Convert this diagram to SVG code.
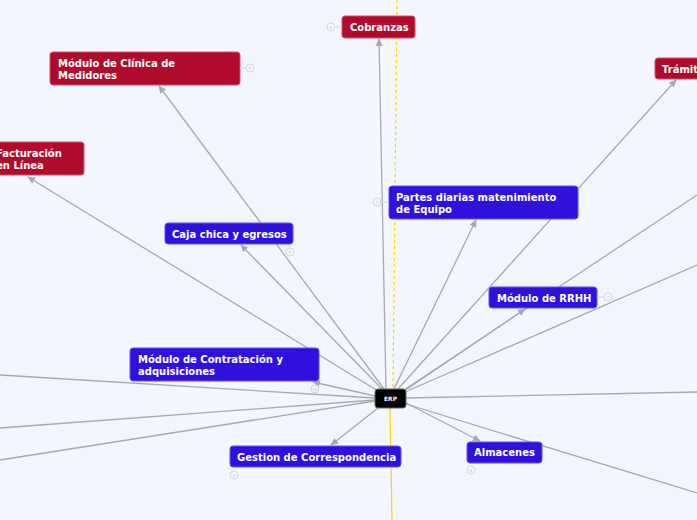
<svg xmlns="http://www.w3.org/2000/svg" width="697" height="520" viewBox="0 0 697 520">
<style>
.r{fill:#b00b2a;stroke:#d05070;stroke-width:1}
.b{fill:#3010dd;stroke:#6a50f0;stroke-width:1}
.t{font-family:"DejaVu Sans",sans-serif;font-weight:bold;font-size:10px;fill:#fff}
.c{stroke:#a8a8b0;stroke-width:1.3;fill:none}
.n{fill:none;stroke:#d8d8de;stroke-width:1}
.nt{font-family:"DejaVu Sans",sans-serif;font-size:4px;fill:#c8c8d0;text-anchor:middle}
</style>
<defs><marker id="a" markerWidth="8" markerHeight="8" refX="7" refY="4" orient="auto" markerUnits="userSpaceOnUse"><path d="M0,0.5 L8,4 L0,7.5z" fill="#a8a8b0"/></marker></defs>
<rect width="697" height="520" fill="#f3f6fe"/>
<line x1="397" y1="0" x2="393" y2="389" stroke="#f5d800" stroke-width="1.2" stroke-dasharray="3,3"/>
<line x1="390" y1="408" x2="392" y2="520" stroke="#f5d800" stroke-width="1.2"/>
<g id="connectors">
<path class="c" d="M386,389 L379,39" marker-end="url(#a)"/>
<path class="c" d="M384,389 L159,86" marker-end="url(#a)"/>
<path class="c" d="M378,391 L28,177" marker-end="url(#a)"/>
<path class="c" d="M382,389 L241,245" marker-end="url(#a)"/>
<path class="c" d="M375,396 L313,382" marker-end="url(#a)"/>
<path class="c" d="M378,408 L331,445" marker-end="url(#a)"/>
<path class="c" d="M394,389 L476,220" marker-end="url(#a)"/>
<path class="c" d="M398,389 L676,80" marker-end="url(#a)"/>
<path class="c" d="M404,391 L525,309" marker-end="url(#a)"/>
<path class="c" d="M404,390 L697,195"/>
<path class="c" d="M405,392 L697,265"/>
<path class="c" d="M406,398 L697,392"/>
<path class="c" d="M406,403 L480,441" marker-end="url(#a)"/>
<path class="c" d="M406,404 L697,493"/>
<path class="c" d="M375,398 L0,375"/>
<path class="c" d="M375,400 L0,428"/>
<path class="c" d="M375,401 L0,460"/>
</g>
<g id="erp"><rect x="375" y="389" width="31" height="19" rx="3" fill="#000" stroke="#666"/><text x="390.5" y="401" font-family="DejaVu Sans,sans-serif" font-weight="bold" font-size="6px" fill="#fff" text-anchor="middle">ERP</text></g>
<g id="cobranzas"><rect class="r" x="342" y="16" width="73" height="22" rx="3"/><text class="t" x="350" y="31">Cobranzas</text><line x1="336" y1="27" x2="342" y2="27" stroke="#d8d8de"/><circle class="n" cx="331" cy="27" r="4"/><text class="nt" x="331" y="28.5">6</text></g>
<g id="clinica"><rect class="r" x="50" y="52" width="190" height="33" rx="3"/><text class="t" x="58" y="67">Módulo de Clínica de</text><text class="t" x="58" y="79">Medidores</text><line x1="240" y1="68" x2="246" y2="68" stroke="#d8d8de"/><circle class="n" cx="250" cy="68" r="4"/><text class="nt" x="250" y="69.5">5</text></g>
<g id="facturacion"><rect class="r" x="-20" y="142" width="104" height="33" rx="3"/><text class="t" x="-4" y="157">Facturación</text><text class="t" x="-4" y="169">en Línea</text></g>
<g id="tramites"><rect class="r" x="655" y="58" width="60" height="21" rx="3"/><text class="t" x="662" y="73">Trámites</text></g>
<g id="caja"><rect class="b" x="165" y="223" width="128" height="21" rx="3"/><text class="t" x="172" y="238">Caja chica y egresos</text><circle class="n" cx="290" cy="252" r="4"/><text class="nt" x="290" y="253.5">5</text></g>
<g id="partes"><rect class="b" x="389" y="186" width="189" height="33" rx="3"/><text class="t" x="396" y="201">Partes diarias matenimiento</text><text class="t" x="396" y="213">de Equipo</text><line x1="381" y1="202" x2="389" y2="202" stroke="#d8d8de"/><circle class="n" cx="377" cy="202" r="4"/><text class="nt" x="377" y="203.5">7</text></g>
<g id="rrhh"><rect class="b" x="489" y="287" width="108" height="21" rx="3"/><text class="t" x="497" y="302">Módulo de RRHH</text><line x1="597" y1="297" x2="604" y2="297" stroke="#d8d8de"/><circle class="n" cx="608" cy="297" r="4"/><text class="nt" x="608" y="298.5">7</text></g>
<g id="contratacion"><rect class="b" x="130" y="348" width="189" height="33" rx="3"/><text class="t" x="138" y="363">Módulo de Contratación y</text><text class="t" x="138" y="375">adquisiciones</text><circle class="n" cx="315" cy="389" r="4"/><text class="nt" x="315" y="390.5">10</text></g>
<g id="gestion"><rect class="b" x="230" y="446" width="171" height="21" rx="3"/><text class="t" x="237" y="461">Gestion de Correspondencia</text><circle class="n" cx="234" cy="475" r="4"/><text class="nt" x="234" y="476.5">8</text></g>
<g id="almacenes"><rect class="b" x="467" y="442" width="75" height="21" rx="3"/><text class="t" x="474" y="456">Almacenes</text><circle class="n" cx="471" cy="470" r="4"/><text class="nt" x="471" y="471.5">8</text></g>
</svg>
